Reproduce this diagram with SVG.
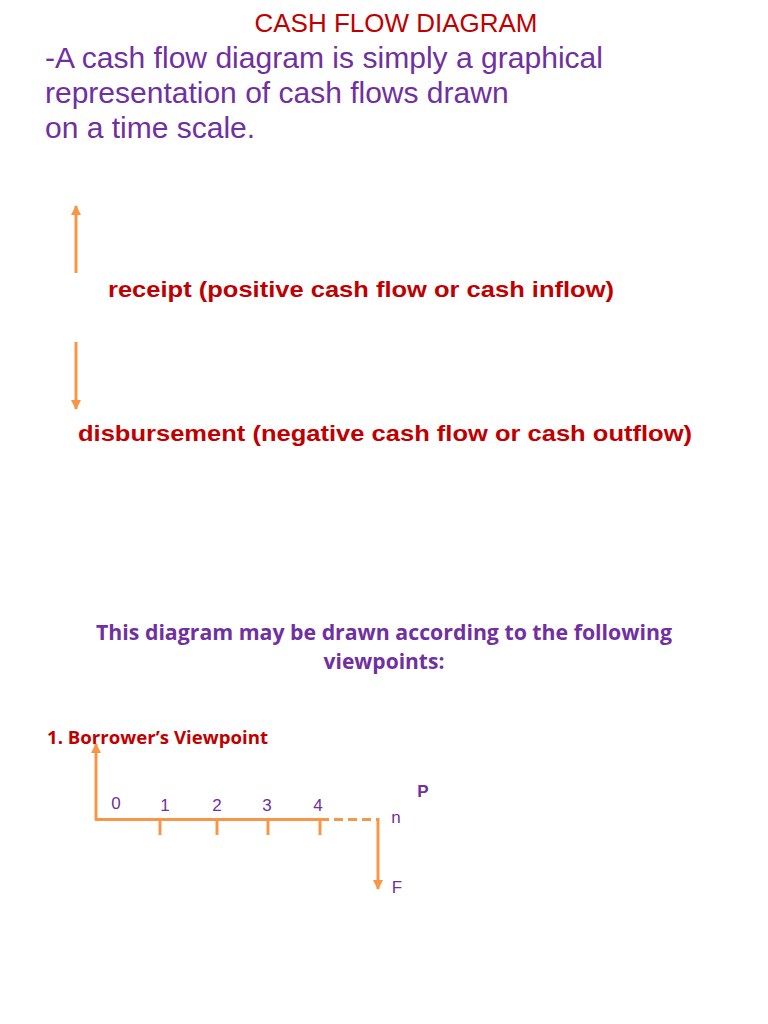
<svg xmlns="http://www.w3.org/2000/svg" width="768" height="1024" viewBox="0 0 768 1024">
<style>
.red{fill:#C00000;font-family:"Liberation Sans",Arial,sans-serif}
.pur{fill:#7030A0;font-family:"Liberation Sans",Arial,sans-serif}
.cal{font-family:"Open Sans","Liberation Sans",sans-serif;font-weight:bold}
.ln{stroke:#F79646;stroke-width:3;fill:none}
.lbl{fill:#7030A0;font-family:"Liberation Sans",Arial,sans-serif;font-size:17px}
</style>
<defs>
<marker id="ah" viewBox="0 0 10 10" refX="9" refY="5" markerWidth="3.5" markerHeight="3.5" orient="auto" markerUnits="strokeWidth">
<path d="M0,0 L10,5 L0,10 z" fill="#F79646"/>
</marker>
</defs>
<rect width="768" height="1024" fill="#fff"/>
<g id="title"><text class="red" x="396" y="32" font-size="25" text-anchor="middle" textLength="283" lengthAdjust="spacingAndGlyphs">CASH FLOW DIAGRAM</text></g>
<g id="intro" class="pur" font-size="30">
<text x="45" y="68" textLength="558" lengthAdjust="spacingAndGlyphs">-A cash flow diagram is simply a graphical</text>
<text x="45" y="103">representation of cash flows drawn</text>
<text x="45" y="138">on a time scale.</text>
</g>
<g id="connectors">
<line class="ln" x1="76" y1="273" x2="76" y2="206" marker-end="url(#ah)"/>
<line class="ln" x1="76" y1="342" x2="76" y2="409" marker-end="url(#ah)"/>
<line class="ln" x1="96" y1="820" x2="96" y2="744" marker-end="url(#ah)"/>
<line class="ln" x1="95" y1="819.5" x2="320" y2="819.5"/>
<line class="ln" x1="320" y1="819.5" x2="378" y2="819.5" stroke-dasharray="9,5"/>
<line class="ln" x1="160" y1="819" x2="160" y2="835"/>
<line class="ln" x1="217" y1="819" x2="217" y2="835"/>
<line class="ln" x1="268" y1="819" x2="268" y2="835"/>
<line class="ln" x1="320" y1="819" x2="320" y2="835"/>
<line class="ln" x1="378" y1="818" x2="378" y2="889" marker-end="url(#ah)"/>
</g>
<g id="receipt"><text class="red" x="108" y="297" font-size="22" font-weight="bold" textLength="506" lengthAdjust="spacingAndGlyphs">receipt (positive cash flow or cash inflow)</text></g>
<g id="disbursement"><text class="red" x="78" y="441" font-size="22" font-weight="bold" textLength="614" lengthAdjust="spacingAndGlyphs">disbursement (negative cash flow or cash outflow)</text></g>
<g id="viewpoints" class="cal" fill="#7030A0" font-size="21" text-anchor="middle">
<text x="384" y="640" textLength="576" lengthAdjust="spacingAndGlyphs">This diagram may be drawn according to the following</text>
<text x="384" y="669">viewpoints:</text>
</g>
<g id="borrower"><text class="cal" fill="#C00000" x="47" y="744" font-size="17" textLength="221" lengthAdjust="spacingAndGlyphs">1.  Borrower’s Viewpoint</text></g>
<g id="labels">
<text class="lbl" x="116" y="809" text-anchor="middle">0</text>
<text class="lbl" x="165" y="811" text-anchor="middle">1</text>
<text class="lbl" x="217" y="811" text-anchor="middle">2</text>
<text class="lbl" x="267" y="811" text-anchor="middle">3</text>
<text class="lbl" x="318" y="811" text-anchor="middle">4</text>
<text class="lbl" x="396" y="823" text-anchor="middle" font-size="15">n</text>
<text class="lbl" x="423" y="797" text-anchor="middle" font-size="12" font-weight="bold">P</text>
<text class="lbl" x="397" y="893" text-anchor="middle">F</text>
</g>
</svg>
